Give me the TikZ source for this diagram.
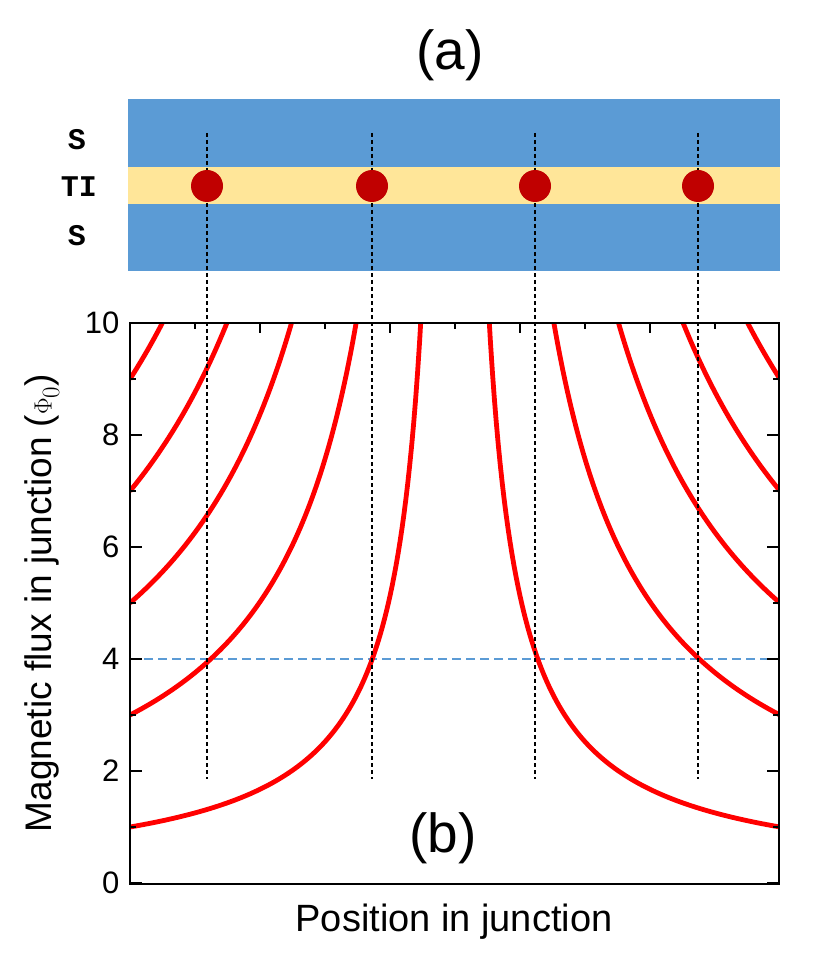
\documentclass[tikz,border=0pt]{standalone}
\usepackage{fontspec}
\setmainfont{Liberation Sans}
\newfontfamily\monob{Liberation Mono}
\begin{document}
\begin{tikzpicture}[x=1pt,y=-1pt,
  curve/.style={red,line width=4.8pt},
  vdash/.style={black,line width=1.2pt,dash pattern=on 4pt off 3pt},
  lbl/.style={font=\monob\bfseries\fontsize{30}{34}\selectfont},
  tick/.style={font=\fontsize{31}{34}\selectfont}]
\useasboundingbox (0,0) rectangle (826,965);
\fill[white] (0,0) rectangle (826,965);
% panel (a)
\node[font=\fontsize{55}{60}\selectfont] (ta) at (450,55) {(a)};
\fill[fill={rgb,255:red,91;green,155;blue,213}] (128,99) rectangle (780,271);
\fill[fill={rgb,255:red,255;green,230;blue,153}] (128,167) rectangle (780,204);
\node[lbl] (s1) at (77,140) {S};
\node[lbl] (ti) at (79,187) {TI};
\node[lbl] (s2) at (77,236) {S};
% dashed 4
\draw[line width=2pt,dash pattern=on 9pt off 5pt,color={rgb,255:red,91;green,155;blue,213}] (130,659) -- (780,659);
% curves
\begin{scope}
\clip (130,323) rectangle (779,884);
\foreach \n in {1,3,5,7,9}{
  \pgfmathsetmacro{\um}{1-\n/10.5}
  \draw[curve] plot[domain=0:\um,samples=150] ({130+323*\x},{883-56*\n/(1-\x)});
  \draw[curve] plot[domain=0:\um,samples=150] ({780-323*\x},{883-56*\n/(1-\x)});
}
\end{scope}
% frame
\draw[line width=1.3pt] (130,323) rectangle (779,884);
\foreach \y/\t in {0/0,2/2,4/4,6/6,8/8,10/10}{
  \draw[line width=1.2pt] (130,883-56*\y) -- ++(12,0);
  \draw[line width=1.2pt] (779,883-56*\y) -- ++(-12,0);
  \node[tick,anchor=east] at (123,883-56*\y) {\t};
}
\foreach \y in {1,3,5,7,9}{
  \draw[line width=1.2pt] (130,883-56*\y) -- ++(6,0);
  \draw[line width=1.2pt] (779,883-56*\y) -- ++(-6,0);
}
\foreach \k in {1,...,4}{
  \draw[line width=1.2pt] (130+130*\k,323) -- ++(0,10);
}
\foreach \k in {0,...,4}{
  \draw[line width=1.2pt] (195+130*\k,323) -- ++(0,6);
}
% dots and dashed lines
\foreach \xx [count=\i] in {207,372,535,698}{
  \coordinate (t\i) at (\xx,133);
  \coordinate (b\i) at (\xx,779);
  \draw[vdash] (t\i) -- (b\i);
  \fill[fill={rgb,255:red,192;green,0;blue,0}] (\xx,186) circle (16);
}
\node[font=\fontsize{55}{60}\selectfont] (tb) at (443,838) {(b)};
\node[font=\fontsize{38}{42}\selectfont] (xl) at (454,922) {Position in junction};
\node[font=\fontsize{37}{42}\selectfont,rotate=90] (yl) at (42,603) {Magnetic flux in junction ($\Phi_0$)};
\end{tikzpicture}
\end{document}
